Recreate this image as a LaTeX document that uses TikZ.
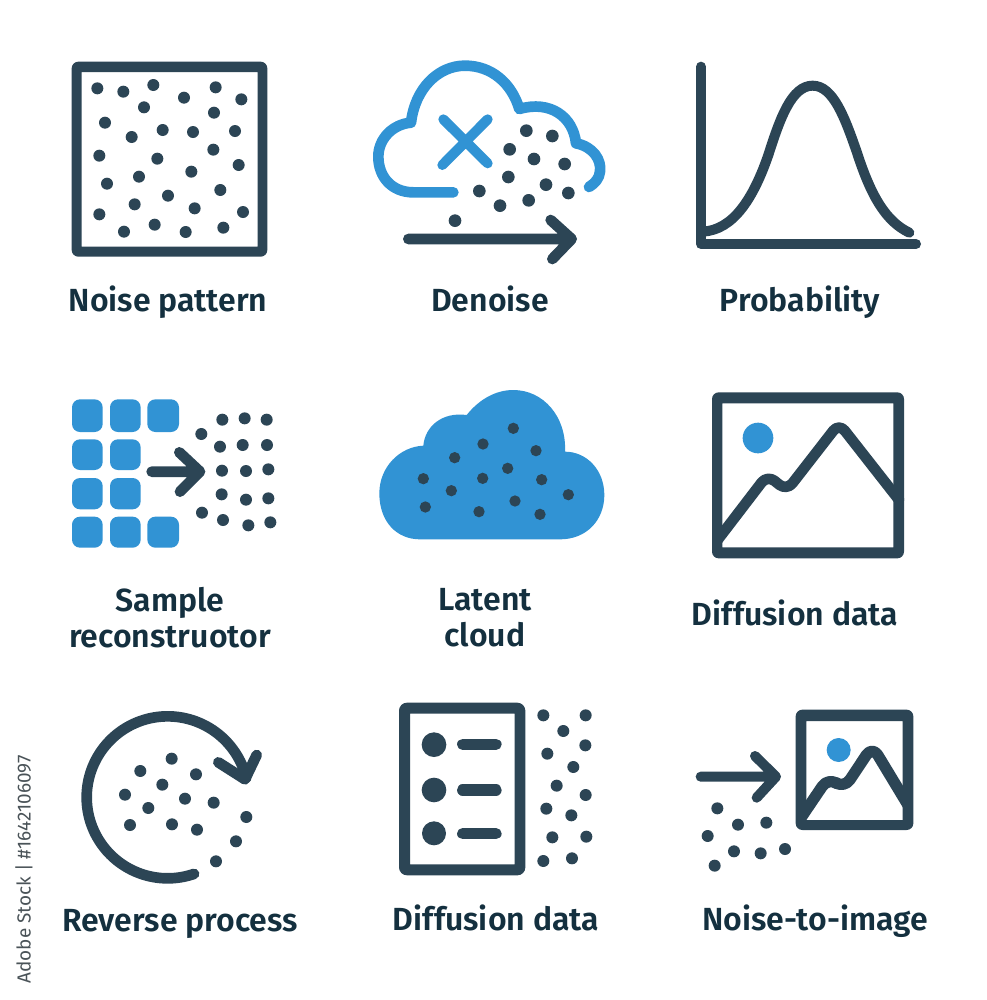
\documentclass[tikz,border=0pt]{standalone}
\usepackage{fontspec}
\setmainfont{Fira Sans}[BoldFont={Fira Sans SemiBold}]
\definecolor{ink}{HTML}{2C4555}
\definecolor{sky}{HTML}{3193D4}
\definecolor{labelink}{HTML}{14303F}
\definecolor{stockgray}{HTML}{4A5358}
\newcommand{\dotset}[2]{\foreach \px/\py in {#2} \fill[ink] (\px,\py) circle (#1);}
\tikzset{
  zoomat/.style 2 args={shift={(#1,#2)},x=.25pt,y=-.25pt},
  iconline/.style={draw=ink,line cap=round,line join=round,line width=#1*.25pt},
  iconline/.default=30,
  skyline/.style={draw=sky,line cap=round,line join=round,line width=#1*.25pt},
  skyline/.default=30,
  caption/.style={font=\bfseries\fontsize{24}{27}\selectfont,text=labelink,align=center,inner sep=0pt},
  oneline/.style={caption,anchor=base}
}
\begin{document}
\begin{tikzpicture}[x=.75pt,y=-.75pt]
\useasboundingbox (0,0) rectangle (986,1000);
\fill[white] (0,0) rectangle (986,1000);

% Noise pattern
\begin{scope}[zoomat={60}{50}]
\fill[ink,even odd rule,rounded corners=5pt] (35,35) rectangle (622,620) [sharp corners] (65,66) rectangle (593,590);
\dotset{18}{112/115,190/125,280/105,372/143,467/112,544/148,252/172,462/188,135/218,215/261,308/240,399/246,525/243,118/317,292/326,460/299,536/345,237/380,394/365,141/401,324/437,481/420,224/463,404/475,118/493,549/486,284/524,192/545,377/546,490/533}
\end{scope}

% Denoise
\begin{scope}[zoomat={360}{50}]
\draw[skyline=32] (280,427) -- (160,427) .. controls (95,427) and (55,380) .. (55,320) .. controls (55,265) and (100,222) .. (153,218) .. controls (165,115) and (235,47) .. (315,47) .. controls (395,47) and (455,100) .. (478,177) .. controls (570,150) and (640,200) .. (648,280) .. controls (700,290) and (725,330) .. (720,365) .. controls (718,385) and (705,400) .. (687,411);
\draw[skyline=30] (250,208) -- (383,340) (383,208) -- (247,345);
\dotset{19}{499/242,577/258,449/298,522/327,614/342,445/381,558/404,358/423,625/429,506/451,420/467,285/512}
\draw[iconline=32] (145,567) -- (635,567) (572,510) -- (635,567) -- (577,627);
\end{scope}

% Probability
\begin{scope}[zoomat={690}{55}]
\draw[iconline=30] (33,35) -- (33,567) -- (678,567);
\draw[iconline=30] (38,530) .. controls (130,525) and (190,430) .. (235,300) .. controls (270,190) and (305,92) .. (368,92) .. controls (430,92) and (465,190) .. (500,290) .. controls (545,430) and (590,500) .. (658,533);
\end{scope}

% Sample reconstructor
\begin{scope}[zoomat={60}{390}]
\foreach \xa/\xb/\ya/\yb in {36/128/28/126,150/242/28/126,262/357/28/126,36/128/148/240,150/242/148/240,36/128/264/358,150/242/264/358,36/128/380/473,150/242/380/473,262/357/380/473}
  \fill[sky,rounded corners=6pt] (\xa,\ya) rectangle (\xb,\yb);
\draw[iconline=32] (275,245) -- (420,245) (358,187) -- (420,245) -- (360,305);
\dotset{18}{424/132,487/89,554/85,620/89,480/170,548/165,621/165,486/242,558/243,625/238,485/313,558/329,625/325,426/368,489/390,565/406,631/397}
\end{scope}

% Latent cloud
\begin{scope}[zoomat={370}{380}]
\fill[sky] (150,478) .. controls (80,478) and (28,425) .. (28,340) .. controls (28,260) and (90,200) .. (160,197) .. controls (165,140) and (215,95) .. (290,105) .. controls (330,55) and (380,30) .. (430,30) .. controls (520,30) and (590,110) .. (585,215) .. controls (650,215) and (703,270) .. (703,345) .. controls (703,420) and (650,478) .. (570,478) -- cycle;
\dotset{17}{430/145,339/192,498/212,254/233,413/265,160/296,338/295,515/299,244/332,595/344,435/363,166/381,327/395,510/403}
\end{scope}

% Diffusion data image
\begin{scope}[zoomat={690}{380}]
\begin{scope}
\clip[rounded corners=5pt] (66,37) rectangle (642,535);
\draw[ink,line width=8pt,line join=round,rounded corners=7pt] (75,490) -- (232,285) -- (290,332) -- (447,130) -- (635,370);
\end{scope}
\fill[ink,even odd rule,rounded corners=5pt] (66,37) rectangle (642,535) [sharp corners] (97,70) rectangle (610,502);
\fill[sky] (204,174) circle (46);
\end{scope}

% Reverse process
\begin{scope}[zoomat={70}{700}]
\draw[iconline=32] plot[domain=71:346,samples=70,smooth] ({293+243*cos(\x)},{292+243*sin(\x)});
\draw[iconline=32] (445,187) -- (525,238) -- (560,165);
\dotset{18}{305/176,211/213,378/223,277/254,165/284,345/296,431/308,235/324,529/351,180/375,306/373,381/389,498/424,438/484}
\end{scope}

% Diffusion data document
\begin{scope}[zoomat={390}{695}]
\fill[ink,even odd rule,rounded corners=6pt] (27,23) rectangle (406,541) [sharp corners] (60,56) rectangle (374,508);
\fill[ink] (132,149) circle (37) (132,285) circle (37) (132,415) circle (36);
\draw[iconline=34] (218,148) -- (318,148) (218,285) -- (318,285) (218,416) -- (318,416);
\dotset{18}{460/61,587/61,520/108,586/151,472/176,550/216,500/272,587/300,469/341,544/361,487/427,589/425,546/490,460/498}
\end{scope}

% Noise-to-image
\begin{scope}[zoomat={690}{700}]
\begin{scope}
\clip (320,30) rectangle (668,388);
\draw[ink,line width=8.5pt,line join=round,rounded corners=8pt] (325,365) -- (415,232) -- (462,266) -- (547,138) -- (660,325);
\end{scope}
\fill[ink,even odd rule,rounded corners=5pt] (317,29) rectangle (670,390) [sharp corners] (349,63) rectangle (638,360);
\fill[sky] (446,150) circle (36);
\draw[iconline=30] (32,230) -- (255,230) (195,168) -- (258,230) -- (200,293);
\dotset{18}{82/325,144/374,229/368,53/408,132/454,212/460,285/447,74/497}
\end{scope}

% Captions
\node[oneline] (capA) at (168,311) {Noise pattern};
\node[oneline] (capB) at (490,311) {Denoise};
\node[oneline] (capC) at (800,311) {Probability};
\node[caption] (capD) at (170,618) {Sample\\reconstruotor};
\node[caption] (capE) at (485,618) {Latent\\cloud};
\node[oneline] (capF) at (795,625) {Diffusion data};
\node[oneline] (capG) at (180,931) {Reverse process};
\node[oneline] (capH) at (496,930) {Diffusion data};
\node[oneline] (capI) at (815,930) {Noise-to-image};

% Side credit
\node[rotate=90,anchor=east,font=\fontsize{14.2}{16}\selectfont,text=stockgray,inner sep=0pt] (credit) at (24,755) {Adobe Stock | \#1642106097};
\end{tikzpicture}
\end{document}
